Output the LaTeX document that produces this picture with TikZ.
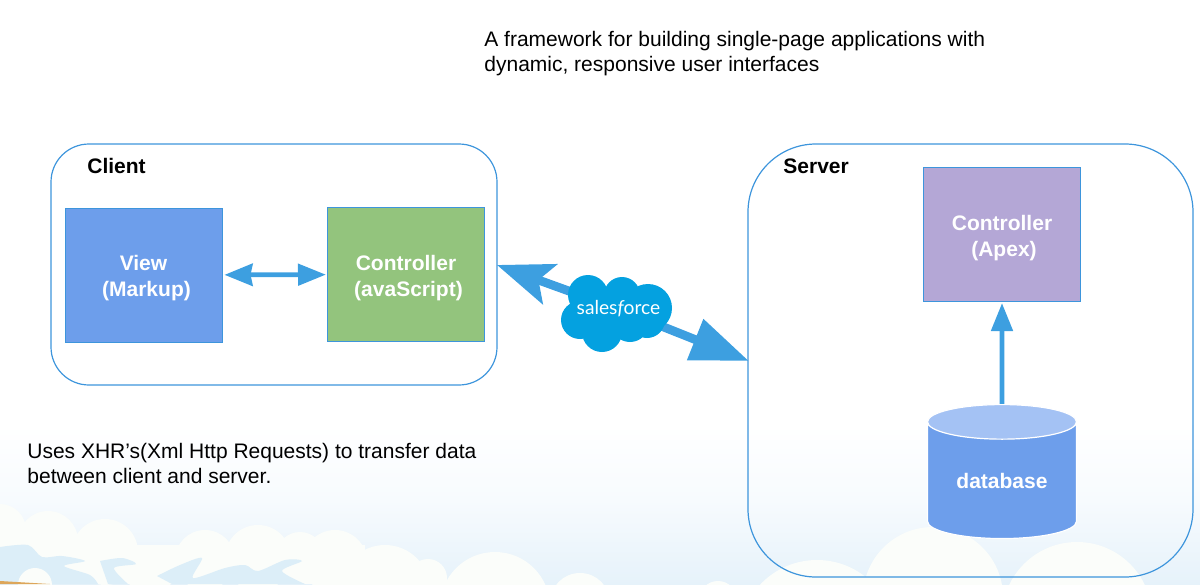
\documentclass[tikz,border=0pt]{standalone}
\usepackage{fontspec}
\setmainfont{Liberation Sans}
\newfontfamily\sflogo{Lato}
\usetikzlibrary{arrows.meta,shapes.geometric,backgrounds}
\definecolor{edgeblue}{HTML}{3D95DC}
\definecolor{arrowblue}{HTML}{3D9FE0}
\definecolor{viewblue}{HTML}{6D9EEB}
\definecolor{topblue}{HTML}{A4C2F4}
\definecolor{ctrlgreen}{HTML}{93C47D}
\definecolor{apexpurple}{HTML}{B4A7D6}
\definecolor{cloudblue}{HTML}{04A1E0}
\definecolor{skymid}{HTML}{F7FBFE}
\definecolor{skylow}{HTML}{E6F2FA}
\definecolor{skypatch}{HTML}{DCEEF8}
\definecolor{cloudwhite}{HTML}{FBFDFA}
\definecolor{sand}{HTML}{DDA65A}
\pgfdeclarelayer{arrows}
\pgfsetlayers{background,arrows,main}
\newcommand{\liftline}{\rule{0pt}{11pt}}
\tikzset{
  lbl/.style={font=\fontsize{10.5}{12.8}\selectfont,align=left,inner sep=0pt,text=black},
  head/.style={font=\fontsize{10.5}{13}\selectfont\bfseries,inner sep=0pt,text=black},
  frame/.style={draw=edgeblue,line width=.6pt,inner sep=0pt},
  box/.style={draw=edgeblue,line width=.5pt,inner sep=0pt,minimum width=78.5pt,minimum height=67pt,
    text=white,align=center,font=\fontsize{10.5}{13}\selectfont\bfseries},
  link/.style={draw=arrowblue,fill=arrowblue,line width=2.4pt},
  biglink/.style={draw=arrowblue,fill=arrowblue,line width=4.4pt},
}
\begin{document}
\begin{tikzpicture}[x=.5pt,y=-.5pt]
\useasboundingbox (0,0) rectangle (1200,584);

% sky and clouds at the bottom
\begin{scope}[on background layer]
  \clip (0,0) rectangle (1200,584);
  \shade[top color=white,bottom color=skymid] (0,425) rectangle (1200,500.5);
  \shade[top color=skymid,bottom color=skylow] (0,500) rectangle (1200,584);
  \fill[cloudwhite] (0,530) circle (26) (48,541) circle (30) (105,552) circle (33)
    (150,570) circle (25) (205,560) circle (30) (258,558) circle (33) (300,556) circle (24)
    (335,562) circle (32) (385,590) circle (45) (428,578) circle (19) (495,607) circle (55)
    (580,603) circle (30) (718,600) circle (19);
  \fill[cloudwhite] (0,545) rectangle (365,584);
  \fill[skypatch] plot[smooth,tension=.5] coordinates {(0,547) (28,545) (42,557) (62,556) (85,561)
      (64,566) (90,575) (98,584)} -- (0,584) -- cycle;
  \fill[skypatch] plot[smooth,tension=.5] coordinates {(100,561) (122,558) (136,564) (114,568) (128,584)} -- (108,584) -- cycle;
  \fill[skypatch] plot[smooth,tension=.5] coordinates {(157,576) (180,565) (202,558) (193,578) (225,568)
      (245,565) (258,571) (285,560) (302,561) (282,571) (305,584)} -- (172,584) -- cycle;
  \fill[cloudwhite] (35,585) circle (17);
  \fill[sand] (0,581) -- (50,584) -- (0,584) -- cycle;
  \fill[cloudwhite] (817,638) circle (78) (933,597) circle (70) (1077,617) circle (75);
\end{scope}

% frames
\node[frame,rounded corners=19pt,minimum width=223pt,minimum height=120.5pt] (client) at (274,264.5) {};
\node[frame,rounded corners=34pt,minimum width=222.5pt,minimum height=216.5pt] (server) at (970.5,360.5) {};
\coordinate (clientport) at (497,265);
\coordinate (serverport) at (749,361);

% boxes
\node[box,fill=viewblue] (view) at (143.5,275) {\liftline View\\(Markup)\hspace*{-3pt}};
\node[box,fill=ctrlgreen] (ctrl) at (406,274.5) {\liftline Controller\\(avaScript)\hspace*{-2.5pt}};
\node[box,fill=apexpurple] (apex) at (1002,234.5) {\liftline Controller\\(Apex)\hspace*{-2pt}};
\node[draw=white,line width=.6pt,shape=cylinder,shape border rotate=90,aspect=.38,cylinder uses custom fill,
  cylinder body fill=viewblue,cylinder end fill=topblue,inner sep=0pt,
  minimum width=74.5pt,minimum height=67pt,text=white,font=\fontsize{10.5}{13}\selectfont\bfseries] (db) at (1002,480.5) {database};

% salesforce cloud
\fill[cloudblue] (588,295) circle (20) (622,295) circle (18) (648,308) circle (24) (580,320) circle (19)
  (602,332) circle (20) (630,323) circle (19) (647,320) circle (18) (615,312) circle (26);
\node[text=white,inner sep=0pt,font=\sflogo\fontsize{9.6}{12}\selectfont] (sf) at (618.5,309) {sales{\itshape f}orce};

% connectors
\begin{pgfonlayer}{arrows}
  \draw[biglink,-{Stealth[length=28pt,width=21pt,inset=6pt]}] (sf) -- (clientport);
  \draw[biglink,-{Triangle[length=29pt,width=21pt]}] (sf) -- (serverport);
\end{pgfonlayer}
\draw[link,{Stealth[length=14pt,width=11pt,inset=1pt]}-{Triangle[length=14pt,width=10.5pt]},shorten <=1pt,shorten >=.5pt] (view) -- (ctrl);
\draw[link,-{Triangle[length=14pt,width=10.5pt]},shorten >=.5pt] (db.north) -- (apex.south);

% texts
\node[head,anchor=base west] (clienttxt) at (87,173) {Client};
\node[head,anchor=base west] (servertxt) at (783,173) {Server};
\node[lbl,anchor=north west] (topnote) at (484,30.5) {A framework for building single-page applications with\\dynamic, responsive user interfaces};
\node[lbl,anchor=north west] (lownote) at (27,442.5) {Uses XHR’s(Xml Http Requests) to transfer data\\between client and server.};
\end{tikzpicture}
\end{document}
